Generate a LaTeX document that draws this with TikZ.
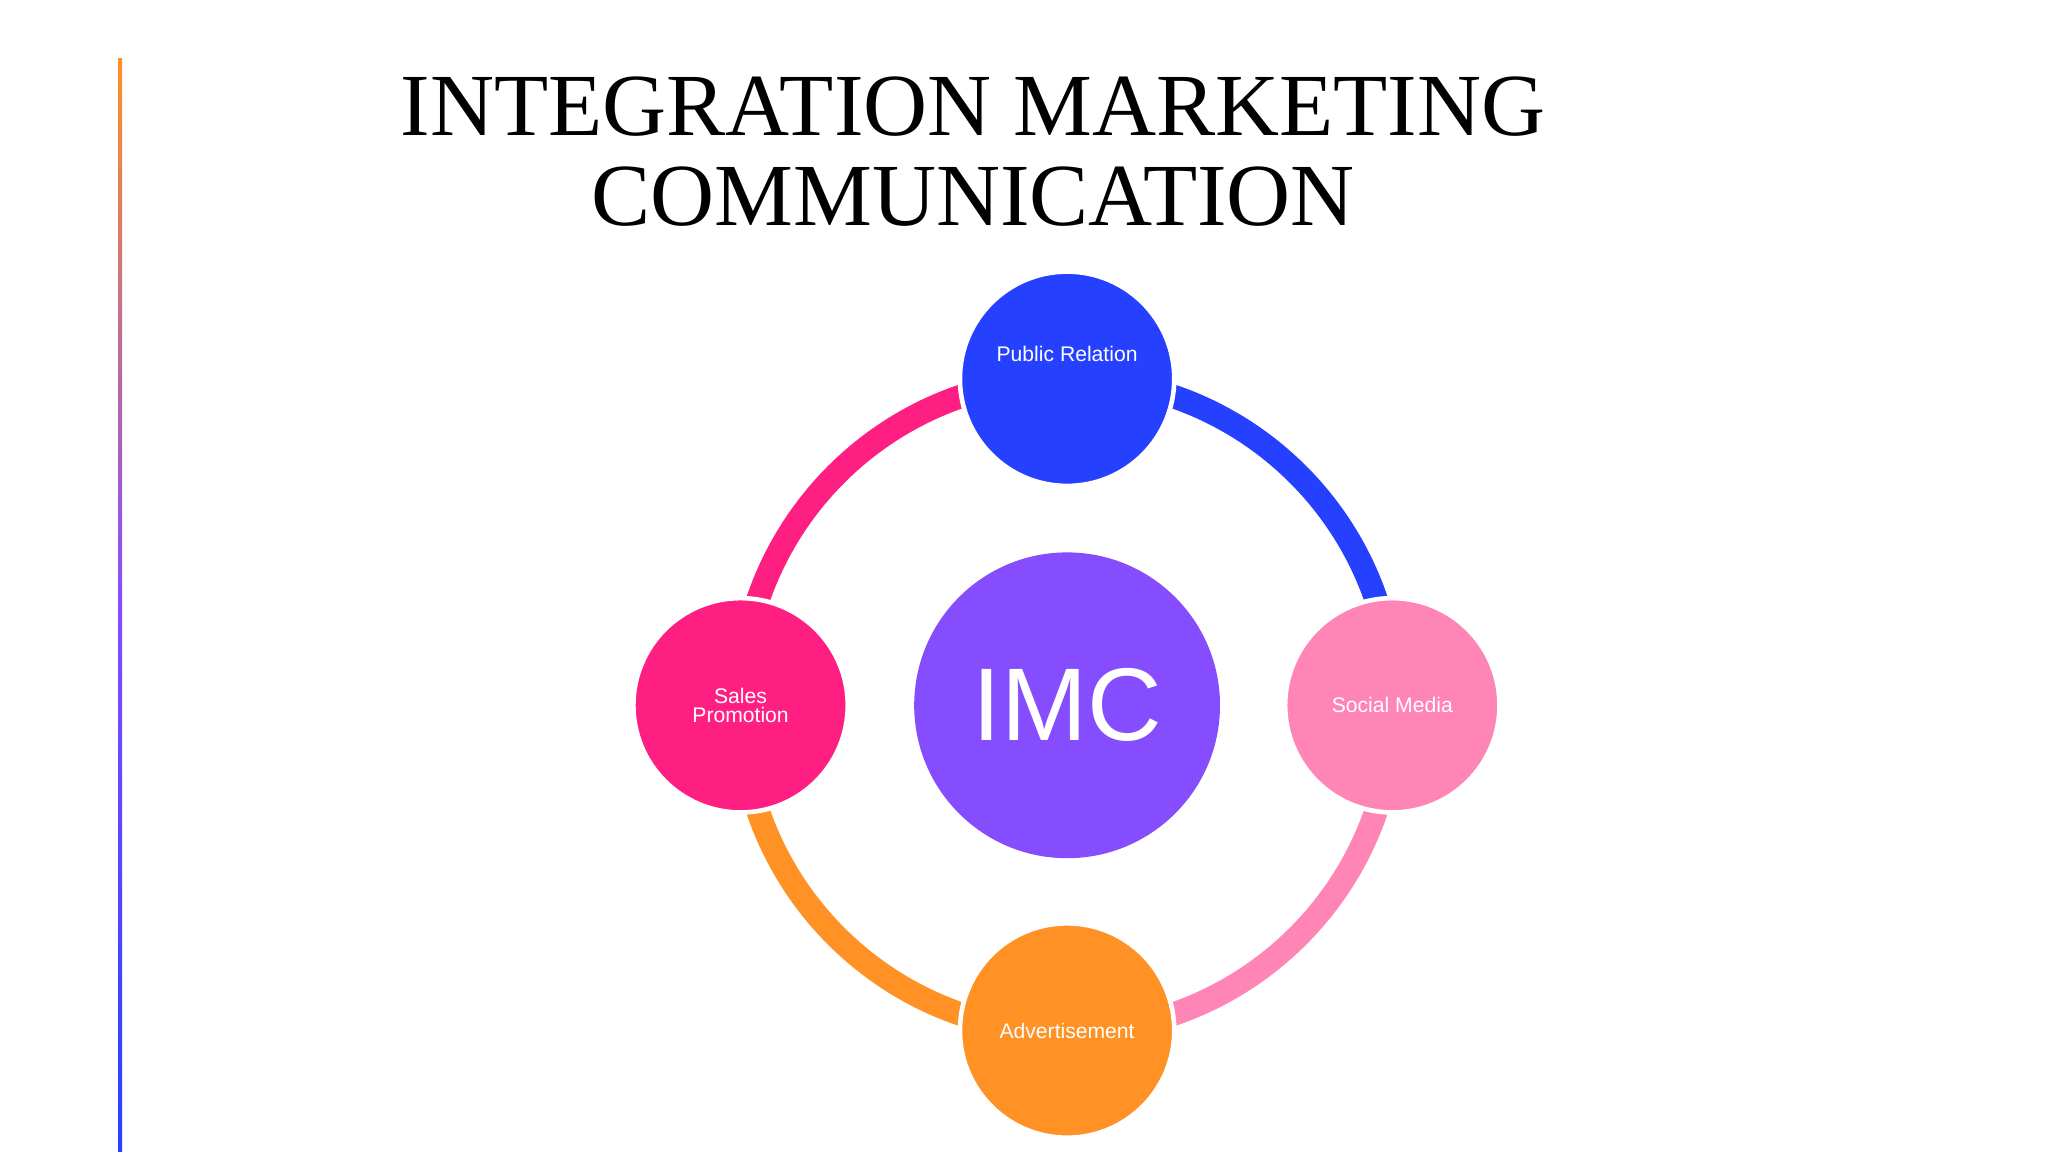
\documentclass[tikz,border=0pt]{standalone}
\usepackage{fontspec}
\setmainfont{Liberation Sans}
\newfontfamily\titlefont{Liberation Serif}
\definecolor{cblue}{HTML}{2541FF}
\definecolor{cpink}{HTML}{FF85B7}
\definecolor{corange}{HTML}{FF9125}
\definecolor{cmag}{HTML}{FF1F82}
\definecolor{cpurple}{HTML}{854DFD}
\tikzset{
  sat/.style={circle, minimum size=1.64cm, inner sep=0pt, draw=white, line width=1pt, text=white, font=\fontsize{4.6pt}{5pt}\selectfont, align=center},
  ringarc/.style={line width=0.18cm}
}
\begin{document}
\begin{tikzpicture}[x=0.01cm,y=-0.01cm]
\useasboundingbox (0,0) rectangle (1568,882);
\fill[white] (0,0) rectangle (1568,882);
\shade[bottom color=cblue, top color=corange, middle color=cpurple] (90.5,882) rectangle (93.5,45);
\node[font=\titlefont\fontsize{19.3pt}{19.5pt}\selectfont, align=center] (title) at (745,116) {INTEGRATION MARKETING\\COMMUNICATION};
\coordinate (c) at (817,540);
\draw[ringarc, cblue] (817,290) arc[start angle=270, end angle=360, radius=250];
\draw[ringarc, cpink] (1067,540) arc[start angle=0, end angle=90, radius=250];
\draw[ringarc, corange] (817,790) arc[start angle=90, end angle=180, radius=250];
\draw[ringarc, cmag] (567,540) arc[start angle=180, end angle=270, radius=250];
\node[circle, minimum size=2.34cm, inner sep=0pt, fill=cpurple, text=white, font=\fontsize{22.5pt}{24pt}\selectfont] (imc) at (c) {IMC};
\node[sat, fill=cblue] (pr) at (817,290) {Public Relation\\[6pt]};
\node[sat, fill=cpink] (sm) at (1066,540) {Social Media};
\node[sat, fill=corange] (ad) at (817,789) {Advertisement};
\node[sat, fill=cmag] (sp) at (567,540) {Sales\\[-1pt]Promotion};
\end{tikzpicture}
\end{document}
